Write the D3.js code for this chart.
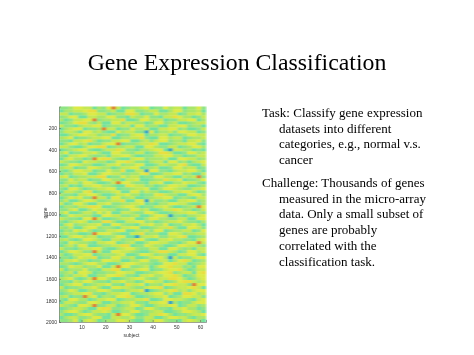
<!DOCTYPE html>
<html><head><meta charset="utf-8">
<script src="https://cdn.jsdelivr.net/npm/d3@7"></script>
<style>html,body{margin:0;background:#fff}svg{display:block}</style></head>
<body><svg id="c" width="474" height="355"></svg>
<script>
const title = "Gene Expression Classification";
const taskLines = ["Task: Classify gene expression","datasets into different","categories, e.g., normal v.s.","cancer"];
const challengeLines = ["Challenge: Thousands of genes","measured in the micro-array","data. Only a small subset of","genes are probably","correlated with the","classification task."];
const geneTicks = [200,400,600,800,1000,1200,1400,1600,1800,2000];
const subjectTicks = [10,20,30,40,50,60];
const levelStops = [0,1,2,3,4,5,6,7,8,9];
const levelColors = ["#2a70b8","#34a4c4","#5adcb4","#70e29c","#8ee484","#a8e66a","#c4e852","#dcea44","#e8de3c","#dc8236"];
const expressionRows = [
"44577 66354 79634 55673 44756 635574","35566 78844 56337 74456 63357 745563","66344 57766 34558 86344 75566 346675","45773 36655 77443 65574 43668 755346",
"53466 77945 56683 34775 56344 667735","34578 85463 37746 65534 77456 334566","64435 66773 45566 37745 53366 774553","35677 34459 66344 75563 36677 453346",
"46653 77564 33756 64417 35564 776634","33567 76645 58344 67735 56634 457766","56734 45667 73355 66843 37756 634556","44366 78534 46677 33564 67745 536674",
"35775 63446 77934 45668 73345 667743","66433 57788 34556 63377 54466 345775","34567 74335 66874 43556 77316 655343","57344 66753 37755 46634 58863 347756",
"43667 75445 36677 53344 66775 534466","36755 34978 85433 67745 55633 776645","65443 76655 34778 64435 66377 453567","34776 55334 66745 57733 46655 784336",
"56634 47765 53466 77345 63347 756634","43577 66344 75583 36617 74435 667753","35466 73357 76644 55783 34667 745336","67345 56688 34475 66344 77553 365694",
"44756 63447 75536 67334 55866 734457","35664 77533 46977 54436 67335 576643","56343 66775 54338 76645 34577 663345","43775 34566 77344 56673 35776 544667",
"36654 78345 56733 77465 53346 677534","54436 67753 34667 55344 78655 336775","35767 44966 37745 63345 66773 454366","46335 77644 56683 37716 44533 667745",
"63477 53366 74455 66734 35577 664335","35546 68873 34567 75344 66753 345697","44673 35766 55344 77563 34668 755346","57334 66475 73366 54477 53345 667754",
"34766 55337 76644 56335 77614 435567","65443 77963 34566 73357 75544 663377","43567 63448 85336 67745 34566 754435","36745 56673 37754 43667 55734 466753",
"54633 67745 54366 77334 56685 337764","35476 75344 66773 35564 77345 566347","46553 34977 75433 66845 53377 645566","33677 56634 45773 31566 74466 783345",
"56434 77653 36645 57743 36675 544367","43765 54366 77345 63357 76644 357796","35647 73345 56688 34476 55334 776654","64435 66774 33567 75446 63377 545366",
"35776 44963 37766 54335 68865 347756","53466 77345 55673 34776 45533 667743","44357 66834 47755 63346 77516 344677","36675 53447 76633 55774 46635 786345",
"55434 67755 33467 76554 34778 663456","34766 45573 36977 44563 57786 645377","63555 74436 68834 56773 44677 853466","45637 76344 55776 63345 67784 566378",
"35466 73355 77864 43667 55778 634577","56743 46977 53345 67754 46688 753467","44365 77544 36675 53477 66345 788656","35677 34566 74438 66735 54778 664977",
"63445 66753 37766 54467 78345 667863","45763 35577 64435 66713 45678 564677","34566 78443 56677 34556 77463 388756","56344 96735 54778 63345 66734 577664",
"43775 53466 77345 56683 34776 654367","36654 47763 35566 74436 67715 344677","65437 76944 66345 77533 56677 346645","34566 53378 84456 63477 54436 675534",
"46775 34667 63355 77445 66334 577653","53346 77544 36977 53346 68753 445667","35664 45773 36655 74466 33577 664355","44573 67634 55776 43365 77544 367653"
];

const W = 474, H = 355;
const plot = {left:59, right:206, top:106.5, bottom:322};
const svg = d3.select("#c");
const grid = expressionRows.map(r => Array.from(r.replace(/\s/g,""), Number));
const x = d3.scaleLinear().domain([0.5,62.5]).range([plot.left,plot.right]);
const y = d3.scaleLinear().domain([0,2000]).range([plot.top,plot.bottom]);
const color = d3.scaleLinear().domain(levelStops).range(levelColors);
const nCols = grid[0].length, nRows = grid.length;
const colX = d3.scaleLinear().domain([0,nCols]).range(x.domain());
const rowY = d3.scaleLinear().domain([0,nRows]).range(y.domain());

const defs = svg.append("defs");
defs.append("filter").attr("id","soft").attr("x",0).attr("y",0).attr("width",1).attr("height",1)
  .append("feGaussianBlur").attr("stdDeviation","0.9 0.45");
defs.append("filter").attr("id","txt").append("feGaussianBlur").attr("stdDeviation",0.3);

const cells = svg.append("g").attr("filter","url(#soft)");
grid.forEach((row,i)=>row.forEach((v,j)=>{
  cells.append("rect")
    .attr("x",x(colX(j))).attr("y",y(rowY(i)))
    .attr("width",x(colX(j+1))-x(colX(j))+0.3)
    .attr("height",y(rowY(i+1))-y(rowY(i))+0.3)
    .attr("fill",color(v));
}));

const axisG = svg.append("g").attr("filter","url(#txt)");
const gy = axisG.append("g").attr("transform",`translate(${plot.left},0)`)
  .call(d3.axisLeft(y).tickValues(geneTicks).tickFormat(d3.format("d")).tickSize(-2).tickPadding(2));
const gx = axisG.append("g").attr("transform",`translate(0,${plot.bottom})`)
  .call(d3.axisBottom(x).tickValues(subjectTicks).tickFormat(d3.format("d")).tickSize(-2).tickPadding(3));
[gx,gy].forEach(g=>{
  g.selectAll("text").attr("font-family","Liberation Sans").attr("font-size",5).attr("fill","#333");
  g.selectAll("line,path").attr("stroke","#555").attr("stroke-width",0.5);
});
axisG.append("text").attr("x",(plot.left+plot.right)/2-1).attr("y",337).attr("text-anchor","middle")
  .attr("font-family","Liberation Sans").attr("font-size",5).attr("fill","#333").text("subject");
axisG.append("text").attr("transform","translate(47,213) rotate(-90)").attr("text-anchor","middle")
  .attr("font-family","Liberation Sans").attr("font-size",5).attr("fill","#333").text("gene");

svg.append("text").attr("x",237).attr("y",70).attr("text-anchor","middle")
  .attr("font-family","Liberation Serif").attr("font-size",23.8).attr("fill","#000").text(title);

const serif = (t,px,py)=>svg.append("text").attr("x",px).attr("y",py)
  .attr("font-family","Liberation Serif").attr("font-size",13).attr("fill","#000").text(t);
taskLines.forEach((t,i)=>serif(t,i?279:262,117+i*15.6));
challengeLines.forEach((t,i)=>serif(t,i?279:262,187+i*15.7));
</script></body></html>
